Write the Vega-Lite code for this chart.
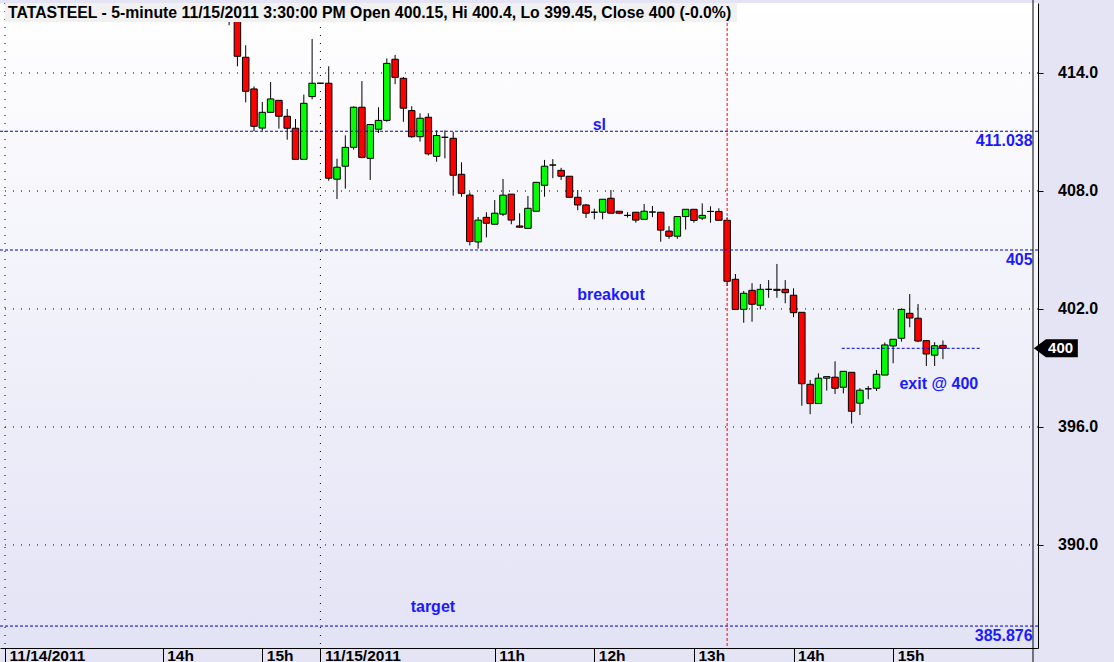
{
  "$schema": "https://vega.github.io/schema/vega-lite/v6.json",
  "width": 1038,
  "height": 645,
  "autosize": {"type": "none"},
  "padding": {"left": 0, "top": 3, "right": 76, "bottom": 14},
  "background": "#e4e4f4",
  "config": {
    "font": "Liberation Sans",
    "view": {"stroke": null}
  },
  "datasets": {
    "candles": [
      {"i":27,"o":417.4,"h":417.8,"l":416.43,"c":416.9},
      {"i":28,"o":417.3,"h":417.6,"l":414.34,"c":414.85},
      {"i":29,"o":414.80,"h":415.41,"l":412.51,"c":413.07},
      {"i":30,"o":413.19,"h":413.32,"l":411.04,"c":411.29},
      {"i":31,"o":411.20,"h":412.53,"l":411.07,"c":412.00},
      {"i":32,"o":412.00,"h":413.54,"l":412.00,"c":412.68},
      {"i":33,"o":412.61,"h":412.61,"l":411.17,"c":411.80},
      {"i":34,"o":411.80,"h":412.17,"l":410.61,"c":411.19},
      {"i":35,"o":411.19,"h":411.66,"l":409.61,"c":409.61},
      {"i":36,"o":409.61,"h":412.90,"l":409.61,"c":412.46},
      {"i":37,"o":412.80,"h":415.73,"l":412.66,"c":413.48},
      {"i":38,"o":413.48,"h":413.48,"l":413.48,"c":413.48},
      {"i":39,"o":413.48,"h":414.34,"l":408.52,"c":408.65},
      {"i":40,"o":408.60,"h":409.64,"l":407.59,"c":409.21},
      {"i":41,"o":409.26,"h":410.83,"l":408.12,"c":410.22},
      {"i":42,"o":410.22,"h":412.30,"l":410.10,"c":412.26},
      {"i":43,"o":412.26,"h":413.59,"l":409.66,"c":409.71},
      {"i":44,"o":409.66,"h":411.40,"l":408.56,"c":411.38},
      {"i":45,"o":411.14,"h":412.26,"l":410.95,"c":411.59},
      {"i":46,"o":411.59,"h":414.74,"l":411.52,"c":414.49},
      {"i":47,"o":414.70,"h":414.92,"l":413.43,"c":413.78},
      {"i":48,"o":413.73,"h":413.80,"l":411.52,"c":412.21},
      {"i":49,"o":412.09,"h":412.31,"l":410.71,"c":410.76},
      {"i":50,"o":410.76,"h":411.95,"l":410.51,"c":411.70},
      {"i":51,"o":411.75,"h":411.95,"l":409.81,"c":409.89},
      {"i":52,"o":409.76,"h":411.08,"l":409.49,"c":410.82},
      {"i":53,"o":410.73,"h":411.08,"l":409.66,"c":410.73},
      {"i":54,"o":410.68,"h":411.00,"l":407.76,"c":408.80},
      {"i":55,"o":408.85,"h":409.46,"l":407.71,"c":407.88},
      {"i":56,"o":407.79,"h":407.93,"l":405.23,"c":405.43},
      {"i":57,"o":405.41,"h":406.68,"l":405.07,"c":406.52},
      {"i":58,"o":406.66,"h":406.92,"l":405.64,"c":406.36},
      {"i":59,"o":406.31,"h":407.54,"l":406.31,"c":406.87},
      {"i":60,"o":406.82,"h":408.61,"l":406.73,"c":407.79},
      {"i":61,"o":407.84,"h":407.84,"l":406.31,"c":406.52},
      {"i":62,"o":406.22,"h":406.87,"l":406.12,"c":406.16},
      {"i":63,"o":406.10,"h":407.75,"l":406.10,"c":407.12},
      {"i":64,"o":406.97,"h":408.44,"l":406.97,"c":408.44},
      {"i":65,"o":408.29,"h":409.58,"l":407.71,"c":409.26},
      {"i":66,"o":409.32,"h":409.62,"l":408.65,"c":409.32},
      {"i":67,"o":409.05,"h":409.18,"l":408.56,"c":408.75},
      {"i":68,"o":408.75,"h":408.75,"l":407.68,"c":407.68},
      {"i":69,"o":407.68,"h":408.05,"l":407.02,"c":407.29},
      {"i":70,"o":407.29,"h":407.34,"l":406.63,"c":406.87},
      {"i":71,"o":406.92,"h":407.10,"l":406.56,"c":406.92},
      {"i":72,"o":406.92,"h":407.58,"l":406.56,"c":407.58},
      {"i":73,"o":407.63,"h":408.05,"l":406.87,"c":406.87},
      {"i":74,"o":406.97,"h":406.97,"l":406.82,"c":406.87},
      {"i":75,"o":406.76,"h":406.92,"l":406.65,"c":406.76},
      {"i":76,"o":406.92,"h":406.92,"l":406.39,"c":406.52},
      {"i":77,"o":406.56,"h":407.34,"l":406.56,"c":406.97},
      {"i":78,"o":406.93,"h":407.24,"l":406.67,"c":406.93},
      {"i":79,"o":406.92,"h":406.92,"l":405.42,"c":406.01},
      {"i":80,"o":405.96,"h":406.21,"l":405.57,"c":405.70},
      {"i":81,"o":405.70,"h":406.70,"l":405.57,"c":406.70},
      {"i":82,"o":406.70,"h":407.07,"l":406.04,"c":407.07},
      {"i":83,"o":407.07,"h":407.07,"l":406.39,"c":406.50},
      {"i":84,"o":406.62,"h":407.37,"l":406.52,"c":406.76},
      {"i":85,"o":406.96,"h":407.22,"l":406.39,"c":406.96},
      {"i":86,"o":406.96,"h":407.12,"l":406.51,"c":406.51},
      {"i":87,"o":406.51,"h":406.66,"l":403.17,"c":403.41},
      {"i":88,"o":403.51,"h":403.78,"l":401.98,"c":401.98},
      {"i":89,"o":401.98,"h":402.92,"l":401.30,"c":402.80},
      {"i":90,"o":402.95,"h":403.31,"l":401.35,"c":402.24},
      {"i":91,"o":402.19,"h":403.27,"l":401.98,"c":403.00},
      {"i":92,"o":403.00,"h":403.47,"l":402.57,"c":403.00},
      {"i":93,"o":403.00,"h":404.29,"l":402.57,"c":402.95},
      {"i":94,"o":403.00,"h":403.47,"l":402.29,"c":402.83},
      {"i":95,"o":402.70,"h":403.05,"l":401.58,"c":401.81},
      {"i":96,"o":401.83,"h":401.83,"l":397.08,"c":398.20},
      {"i":97,"o":398.17,"h":398.39,"l":396.65,"c":397.19},
      {"i":98,"o":397.19,"h":398.73,"l":397.19,"c":398.48},
      {"i":99,"o":398.48,"h":398.56,"l":397.85,"c":398.56},
      {"i":100,"o":398.53,"h":399.34,"l":397.68,"c":397.97},
      {"i":101,"o":398.02,"h":398.83,"l":397.71,"c":398.83},
      {"i":102,"o":398.78,"h":398.78,"l":396.17,"c":396.80},
      {"i":103,"o":397.21,"h":397.97,"l":396.61,"c":397.87},
      {"i":104,"o":397.94,"h":398.08,"l":397.41,"c":397.94},
      {"i":105,"o":397.97,"h":398.90,"l":397.83,"c":398.68},
      {"i":106,"o":398.64,"h":400.29,"l":398.64,"c":400.17},
      {"i":107,"o":400.12,"h":400.46,"l":399.24,"c":400.46},
      {"i":108,"o":400.51,"h":401.98,"l":400.34,"c":401.98},
      {"i":109,"o":401.78,"h":402.76,"l":401.07,"c":401.54},
      {"i":110,"o":401.53,"h":402.25,"l":400.31,"c":400.37},
      {"i":111,"o":400.39,"h":400.39,"l":399.10,"c":399.71},
      {"i":112,"o":399.65,"h":400.31,"l":399.10,"c":400.13},
      {"i":113,"o":400.15,"h":400.40,"l":399.45,"c":400.00}
    ],
    "levels": [
      {"name": "sl", "level": 411.038},
      {"name": "breakout", "level": 405},
      {"name": "target", "level": 385.876}
    ],
    "notes": [
      {"text": "sl", "i": 71.6, "p": 411.08},
      {"text": "breakout", "i": 73.0, "p": 402.46},
      {"text": "target", "i": 51.55, "p": 386.59},
      {"text": "exit @ 400", "i": 112.5, "p": 397.93}
    ],
    "exit": [
      {"price": 400, "from": 100.8, "to": 117.6}
    ],
    "pricegrid": [{"p": 390}, {"p": 396}, {"p": 402}, {"p": 408}, {"p": 414}],
    "days": [{"i": 0, "day": "11/14/2011"}, {"i": 38, "day": "11/15/2011"}],
    "heading": [{"t": "TATASTEEL - 5-minute 11/15/2011 3:30:00 PM Open 400.15, Hi 400.4, Lo 399.45, Close 400 (-0.0%)"}]
  },
  "layer": [
    {
      "data": {"values": [{}]},
      "mark": {"type": "rect", "color": {"gradient": "linear", "x1": 0, "y1": 0, "x2": 0, "y2": 1,
        "stops": [{"offset": 0, "color": "#ffffff"}, {"offset": 1, "color": "#e3e3f6"}]}}
    },
    {
      "data": {"name": "pricegrid"},
      "mark": {"type": "rule", "color": "#000000", "strokeWidth": 1, "strokeDash": [1, 7]},
      "encoding": {
        "y": {"field": "p", "type": "quantitative", "scale": {"domain": [384.76, 417.56], "nice": false, "zero": false}}
      }
    },
    {
      "data": {"name": "days"},
      "mark": {"type": "rule", "color": "#000000", "strokeWidth": 1, "strokeDash": [1, 7]},
      "encoding": {
        "x": {"field": "i", "type": "quantitative", "scale": {"domain": [0, 123.85], "nice": false, "zero": false}}
      }
    },
    {
      "data": {"name": "candles"},
      "mark": {"type": "rule", "color": "#000000", "strokeWidth": 1, "clip": true},
      "encoding": {
        "x": {
          "field": "i", "type": "quantitative",
          "scale": {"domain": [0, 123.85], "nice": false, "zero": false},
          "axis": {
            "title": null, "zindex": 1,
            "values": [0, 19, 31, 38, 59, 71, 83, 95, 107],
            "labelExpr": "datum.value == 0 ? '11/14/2011' : datum.value == 19 ? '14h' : datum.value == 31 ? '15h' : datum.value == 38 ? '11/15/2011' : datum.value == 59 ? '11h' : datum.value == 71 ? '12h' : datum.value == 83 ? '13h' : datum.value == 95 ? '14h' : '15h'",
            "labelAlign": "left", "labelBaseline": "top", "labelOffset": 4,
            "labelPadding": -14, "tickSize": 14, "tickColor": "#000000",
            "labelFontSize": 15.5, "labelFontWeight": "bold", "labelColor": "#000000", "labelFont": "Liberation Sans",
            "labelOverlap": false, "labelFlush": false,
            "domainColor": "#000000", "domainWidth": 1,
            "grid": false
          }
        },
        "y": {
          "field": "l", "type": "quantitative",
          "scale": {"domain": [384.76, 417.56], "nice": false, "zero": false},
          "axis": {
            "title": null, "orient": "right", "zindex": 1,
            "values": [390, 396, 402, 408, 414],
            "labels": false, "tickSize": 5, "tickColor": "#000000",
            "domainColor": "#000000", "domainWidth": 1,
            "grid": false
          }
        },
        "y2": {"field": "h"}
      }
    },
    {
      "data": {"name": "candles"},
      "mark": {"type": "bar", "width": 6.5, "stroke": "#000000", "strokeWidth": 1, "clip": true},
      "encoding": {
        "x": {"field": "i", "type": "quantitative", "scale": {"domain": [0, 123.85], "nice": false, "zero": false}},
        "y": {"field": "o", "type": "quantitative", "scale": {"domain": [384.76, 417.56], "nice": false, "zero": false}},
        "y2": {"field": "c"},
        "color": {"condition": {"test": "datum.c >= datum.o", "value": "#00ff00"}, "value": "#ff0000"}
      }
    },
    {
      "data": {"name": "levels"},
      "mark": {"type": "rule", "color": "#0000d0", "strokeWidth": 1, "strokeDash": [3, 2]},
      "encoding": {
        "y": {"field": "level", "type": "quantitative", "scale": {"domain": [384.76, 417.56], "nice": false, "zero": false}}
      }
    },
    {
      "data": {"name": "candles"},
      "transform": [{"filter": "datum.i == 87"}],
      "mark": {"type": "rule", "color": "#ff0000", "strokeWidth": 1, "strokeDash": [3, 2]},
      "encoding": {
        "x": {"field": "i", "type": "quantitative", "scale": {"domain": [0, 123.85], "nice": false, "zero": false}}
      }
    },
    {
      "data": {"name": "exit"},
      "mark": {"type": "rule", "color": "#0000d0", "strokeWidth": 1, "strokeDash": [3, 2]},
      "encoding": {
        "x": {"field": "from", "type": "quantitative", "scale": {"domain": [0, 123.85], "nice": false, "zero": false}},
        "x2": {"field": "to"},
        "y": {"field": "price", "type": "quantitative", "scale": {"domain": [384.76, 417.56], "nice": false, "zero": false}}
      }
    },
    {
      "data": {"name": "notes"},
      "mark": {"type": "text", "color": "#1a1aff", "fontSize": 16, "fontWeight": "bold", "font": "Liberation Sans", "align": "center", "baseline": "alphabetic"},
      "encoding": {
        "x": {"field": "i", "type": "quantitative", "scale": {"domain": [0, 123.85], "nice": false, "zero": false}},
        "y": {"field": "p", "type": "quantitative", "scale": {"domain": [384.76, 417.56], "nice": false, "zero": false}},
        "text": {"field": "text"}
      }
    },
    {
      "data": {"name": "levels"},
      "mark": {"type": "text", "color": "#1a1aff", "fontSize": 16, "fontWeight": "bold", "font": "Liberation Sans", "align": "right", "baseline": "top", "dy": 2},
      "encoding": {
        "x": {"datum": 123.8, "type": "quantitative", "scale": {"domain": [0, 123.85], "nice": false, "zero": false}},
        "y": {"field": "level", "type": "quantitative", "scale": {"domain": [384.76, 417.56], "nice": false, "zero": false}},
        "text": {"field": "level", "type": "quantitative", "format": ".6~g"}
      }
    },
    {
      "data": {"values": [{}]},
      "mark": {"type": "rect", "color": "#f1f1f1"},
      "encoding": {
        "x": {"datum": 0, "type": "quantitative", "scale": {"domain": [0, 123.85], "nice": false, "zero": false}},
        "x2": {"datum": 88.2},
        "y": {"datum": 416.59, "type": "quantitative", "scale": {"domain": [384.76, 417.56], "nice": false, "zero": false}},
        "y2": {"datum": 417.56}
      }
    },
    {
      "data": {"name": "heading"},
      "mark": {"type": "text", "color": "#000000", "fontSize": 15.8, "fontWeight": "bold", "font": "Liberation Sans", "align": "left", "baseline": "alphabetic", "dx": 3, "dy": 14.5},
      "encoding": {
        "x": {"datum": 0, "type": "quantitative", "scale": {"domain": [0, 123.85], "nice": false, "zero": false}},
        "y": {"datum": 417.56, "type": "quantitative", "scale": {"domain": [384.76, 417.56], "nice": false, "zero": false}},
        "text": {"field": "t"}
      }
    },
    {
      "data": {"values": [{}]},
      "mark": {"type": "rule", "color": "#000000", "strokeWidth": 1, "clip": false},
      "encoding": {
        "x": {"datum": 123.85, "type": "quantitative", "scale": {"domain": [0, 123.85], "nice": false, "zero": false}},
        "y": {"datum": 384.05, "type": "quantitative", "scale": {"domain": [384.76, 417.56], "nice": false, "zero": false}},
        "y2": {"datum": 417.71}
      }
    },
    {
      "data": {"name": "pricegrid"},
      "mark": {"type": "text", "color": "#000000", "fontSize": 16, "fontWeight": "bold", "font": "Liberation Sans", "align": "right", "baseline": "middle", "clip": false},
      "encoding": {
        "x": {"datum": 131.7, "type": "quantitative", "scale": {"domain": [0, 123.85], "nice": false, "zero": false}},
        "y": {"field": "p", "type": "quantitative", "scale": {"domain": [384.76, 417.56], "nice": false, "zero": false}},
        "text": {"field": "p", "type": "quantitative", "format": ".1f"}
      }
    },
    {
      "data": {"name": "candles"},
      "transform": [{"filter": "datum.i == 113"}],
      "mark": {"type": "point", "shape": "M-1,0L-0.45,-0.41L1,-0.41L1,0.41L-0.45,0.41Z", "size": 1936, "filled": true, "color": "#000000", "opacity": 1, "clip": false},
      "encoding": {
        "x": {"datum": 126.6, "type": "quantitative", "scale": {"domain": [0, 123.85], "nice": false, "zero": false}},
        "y": {"field": "c", "type": "quantitative", "scale": {"domain": [384.76, 417.56], "nice": false, "zero": false}}
      }
    },
    {
      "data": {"name": "candles"},
      "transform": [{"filter": "datum.i == 113"}],
      "mark": {"type": "text", "color": "#ffffff", "fontSize": 15, "fontWeight": "bold", "font": "Liberation Sans", "align": "center", "baseline": "middle", "clip": false},
      "encoding": {
        "x": {"datum": 127.17, "type": "quantitative", "scale": {"domain": [0, 123.85], "nice": false, "zero": false}},
        "y": {"field": "c", "type": "quantitative", "scale": {"domain": [384.76, 417.56], "nice": false, "zero": false}},
        "text": {"field": "c", "type": "quantitative", "format": ".5~g"}
      }
    }
  ]
}
